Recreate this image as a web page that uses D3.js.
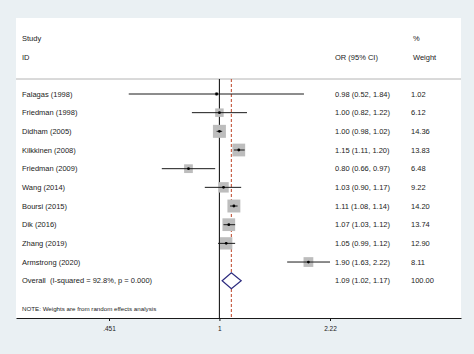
<!DOCTYPE html>
<html>
<head>
<meta charset="utf-8">
<script src="https://cdn.jsdelivr.net/npm/d3@7"></script>
<style>
  body { margin: 0; background: #eaf0f3; }
  svg { display: block; }
  text { font-family: "Liberation Sans", Arial, sans-serif; }
</style>
</head>
<body>
<script>
// study data
var studies = ["Falagas (1998)", "Friedman (1998)", "Didham (2005)", "Kilkkinen (2008)", "Friedman (2009)",
               "Wang (2014)", "Boursi (2015)", "Dik (2016)", "Zhang (2019)", "Armstrong (2020)"];
var or    = [0.98, 1.00, 1.00, 1.15, 0.80, 1.03, 1.11, 1.07, 1.05, 1.90];
var lower = [0.52, 0.82, 0.98, 1.11, 0.66, 0.90, 1.08, 1.03, 0.99, 1.63];
var upper = [1.84, 1.22, 1.02, 1.20, 0.97, 1.17, 1.14, 1.12, 1.12, 2.22];
var weights = [1.02, 6.12, 14.36, 13.83, 6.48, 9.22, 14.20, 13.74, 12.90, 8.11];

var overall = {label: "Overall  (I-squared = 92.8%, p = 0.000)", or: 1.09, lo: 1.02, hi: 1.17, w: 100.00};
var tickVals = [0.451, 1, 2.22];
var tickLabels = [".451", "1", "2.22"];

var W = 474, H = 354;
var panel = {left: 16, right: 461, top: 18, bottom: 318};
var ink = "#222222";

var svg = d3.select("body").append("svg").attr("width", W).attr("height", H);

// white plot panel
svg.append("rect")
  .attr("x", panel.left).attr("y", panel.top)
  .attr("width", panel.right - panel.left).attr("height", panel.bottom - panel.top)
  .attr("fill", "#ffffff");

// log scale, stretched so the axis line covers the whole panel
var x = d3.scaleLog().domain([0.451, 2.22]).range([109, 330]);
x.domain([x.invert(panel.left), x.invert(panel.right)]).range([panel.left, panel.right]);

var y = d3.scaleLinear().domain([0, 10]).range([94, 280.7]);
var fmt = d3.format(".2f");

// header
var hdr = svg.append("g").attr("font-size", "7.5px").attr("fill", ink);
hdr.append("text").attr("x", 22).attr("y", 40.5).text("Study");
hdr.append("text").attr("x", 22).attr("y", 59.5).text("ID");
hdr.append("text").attr("x", 335).attr("y", 59.5).text("OR (95% CI)");
hdr.append("text").attr("x", 413).attr("y", 40.5).text("%");
hdr.append("text").attr("x", 413).attr("y", 59.5).text("Weight");

svg.append("line")
  .attr("x1", panel.left).attr("x2", panel.right).attr("y1", 79).attr("y2", 79)
  .attr("stroke", "#b4b4b4").attr("stroke-width", 1);

// null line and pooled estimate line
svg.append("line")
  .attr("x1", x(1)).attr("x2", x(1)).attr("y1", 79).attr("y2", panel.bottom)
  .attr("stroke", "#1a1a1a").attr("stroke-width", 1.1);
svg.append("line")
  .attr("x1", x(overall.or)).attr("x2", x(overall.or)).attr("y1", 79).attr("y2", panel.bottom)
  .attr("stroke", "#c4553a").attr("stroke-width", 1.1).attr("stroke-dasharray", "3,2");

// study rows
var rows = svg.selectAll("g.row")
  .data(studies)
  .enter()
  .append("g")
  .attr("class", "row");

rows.append("rect")
  .attr("x", function(d, i) { var s = 3.43 * Math.sqrt(weights[i]); return x(or[i]) - s / 2; })
  .attr("y", function(d, i) { var s = 3.43 * Math.sqrt(weights[i]); return y(i) - s / 2; })
  .attr("width", function(d, i) { return 3.43 * Math.sqrt(weights[i]); })
  .attr("height", function(d, i) { return 3.43 * Math.sqrt(weights[i]); })
  .attr("fill", "#bdbdbd");

rows.append("line")
  .attr("x1", function(d, i) { return x(lower[i]); })
  .attr("x2", function(d, i) { return x(upper[i]); })
  .attr("y1", function(d, i) { return y(i); })
  .attr("y2", function(d, i) { return y(i); })
  .attr("stroke", "#1a1a1a").attr("stroke-width", 1);

rows.append("circle")
  .attr("cx", function(d, i) { return x(or[i]); })
  .attr("cy", function(d, i) { return y(i); })
  .attr("r", 1.4)
  .attr("fill", "#000");

rows.append("text")
  .attr("x", 22).attr("y", function(d, i) { return y(i) + 2.6; })
  .attr("font-size", "7.5px").attr("fill", ink)
  .text(function(d) { return d; });

rows.append("text")
  .attr("x", 335).attr("y", function(d, i) { return y(i) + 2.6; })
  .attr("font-size", "7.5px").attr("fill", ink)
  .text(function(d, i) { return fmt(or[i]) + " (" + fmt(lower[i]) + ", " + fmt(upper[i]) + ")"; });

rows.append("text")
  .attr("x", 411).attr("y", function(d, i) { return y(i) + 2.6; })
  .attr("font-size", "7.5px").attr("fill", ink)
  .text(function(d, i) { return fmt(weights[i]); });

// overall diamond
var yo = y(10);
svg.append("path")
  .attr("d", "M" + x(overall.lo) + "," + yo + "L" + x(overall.or) + "," + (yo - 8) +
             "L" + x(overall.hi) + "," + yo + "L" + x(overall.or) + "," + (yo + 8) + "Z")
  .attr("fill", "#ffffff").attr("stroke", "#2c2a7e").attr("stroke-width", 1.2);

svg.append("text").attr("x", 22).attr("y", yo + 2.6).attr("font-size", "7.5px").attr("fill", ink)
  .style("white-space", "pre").text(overall.label);
svg.append("text").attr("x", 335).attr("y", yo + 2.6).attr("font-size", "7.5px").attr("fill", ink)
  .text(fmt(overall.or) + " (" + fmt(overall.lo) + ", " + fmt(overall.hi) + ")");
svg.append("text").attr("x", 411).attr("y", yo + 2.6).attr("font-size", "7.5px").attr("fill", ink)
  .text(fmt(overall.w));

svg.append("text").attr("x", 22).attr("y", 311).attr("font-size", "6.2px").attr("fill", ink)
  .text("NOTE: Weights are from random effects analysis");

// x axis
var xAxis = d3.axisBottom(x)
  .tickValues(tickVals)
  .tickFormat(function(d, i) { return tickLabels[i]; })
  .tickSize(3)
  .tickSizeOuter(0);

var axisG = svg.append("g")
  .attr("transform", "translate(0," + panel.bottom + ")")
  .call(xAxis);
axisG.select(".domain").attr("stroke", "#1a1a1a").attr("stroke-width", 1.1);
axisG.selectAll(".tick line").attr("stroke", "#1a1a1a");
axisG.selectAll(".tick text")
  .attr("font-size", "6.5px")
  .attr("font-family", "Liberation Sans, Arial, sans-serif")
  .attr("fill", ink)
  .attr("dy", "1em");
</script>
</body>
</html>
